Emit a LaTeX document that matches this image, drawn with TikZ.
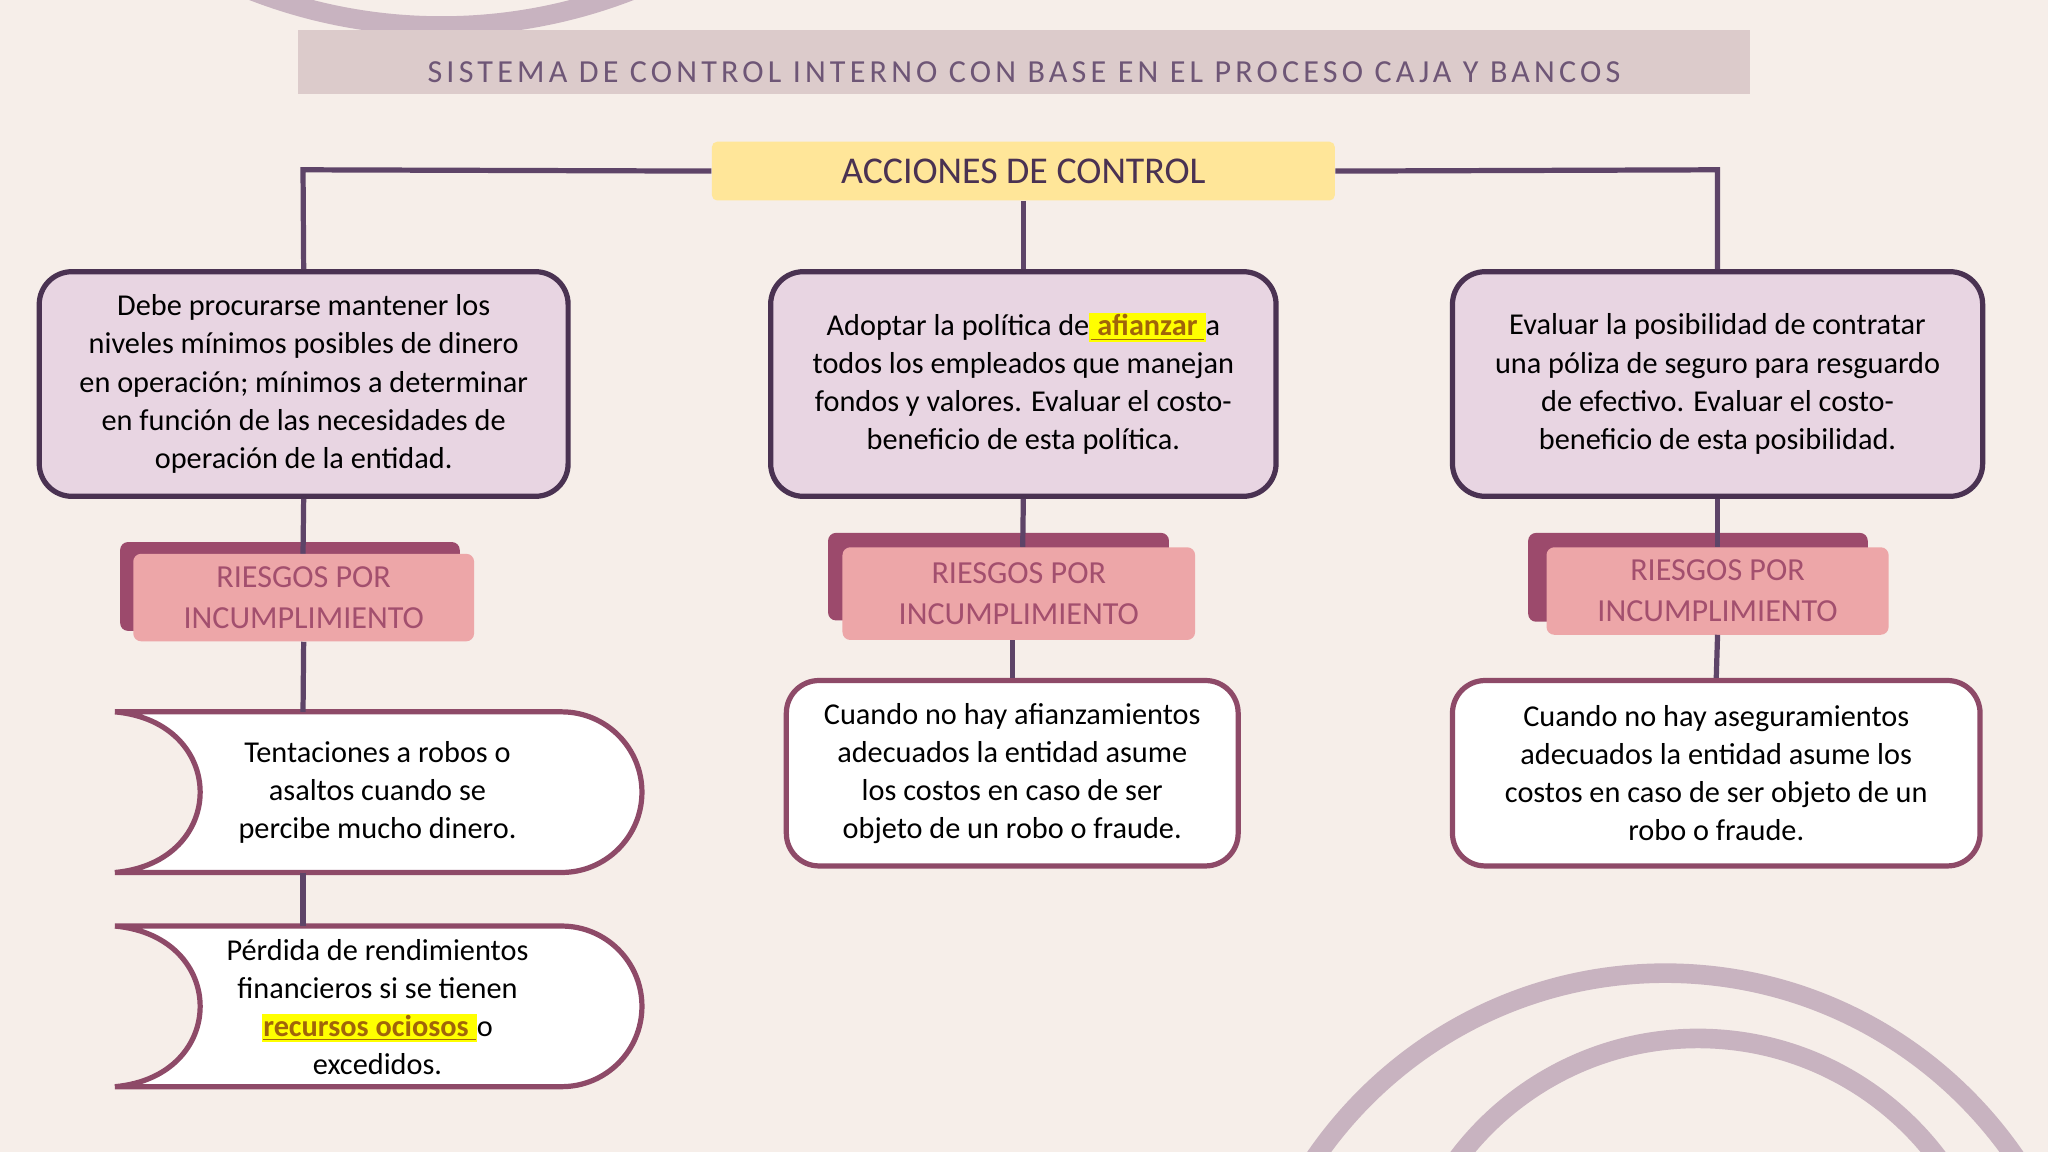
\documentclass[tikz,border=0pt]{standalone}
\usepackage{fontspec}
\setmainfont{Carlito}
\definecolor{bg}{HTML}{F6EEE9}
\definecolor{deco}{HTML}{C8B3C0}
\definecolor{titlebar}{HTML}{DCCBCB}
\definecolor{titletxt}{HTML}{6E5676}
\definecolor{yel}{HTML}{FFE699}
\definecolor{dark}{HTML}{4A3252}
\definecolor{conn}{HTML}{5E4468}
\definecolor{lilac}{HTML}{E8D5E2}
\definecolor{rback}{HTML}{9C4A6C}
\definecolor{rfront}{HTML}{EDA6A8}
\definecolor{rtxt}{HTML}{A34F6E}
\definecolor{wborder}{HTML}{8E4A68}
\definecolor{hly}{HTML}{FFFF00}
\definecolor{hlt}{HTML}{A0650A}
\newcommand{\hlword}[1]{{\setlength\fboxsep{0.5pt}\colorbox{hly}{\textcolor{hlt}{\underline{\bfseries #1}}}}}
\tikzset{
  body/.style={font=\fontsize{13.2}{16.6}\selectfont, text=black, align=center},
  topbox/.style={draw=dark, line width=0.08cm, fill=lilac, rounded corners=0.5cm},
  wbox/.style={draw=wborder, line width=0.08cm, fill=white, rounded corners=0.5cm},
  conline/.style={draw=conn, line width=0.08cm},
  riskf/.style={fill=rfront, rounded corners=0.12cm, font=\fontsize{14}{18}\selectfont, text=rtxt, align=center},
  riskb/.style={fill=rback, rounded corners=0.12cm},
  decoline/.style={draw=deco, line width=0.3cm}
}
\begin{document}
\begin{tikzpicture}[x=0.02cm,y=-0.02cm]
\fill[bg] (0,0) rectangle (1568,882);
\useasboundingbox (0,0) rectangle (1568,882);
\begin{scope}
\clip (0,0) rectangle (1568,882);
\draw[decoline] (338,-380) circle (8cm);
\draw[decoline] (1275,1070) circle (6.5cm);
\draw[decoline] (1300,1025) circle (4.6cm);
\end{scope}
% title
\fill[titlebar] (228,23) rectangle (1340,72);
\node[font=\fontsize{14}{16}\selectfont\addfontfeatures{LetterSpace=13}, text=titletxt] (title) at (784,55) {SISTEMA DE CONTROL INTERNO CON BASE EN EL PROCESO CAJA Y BANCOS};
% acciones
\node[fill=yel, rounded corners=0.08cm, minimum width=9.54cm, minimum height=0.9cm, font=\fontsize{16.5}{18}\selectfont, text=dark] (acc) at (783.5,131) {ACCIONES DE CONTROL};
% top boxes
\node[topbox, body, minimum width=8.1cm, minimum height=3.44cm] (b1) at (232.5,294) {Debe procurarse mantener los\\niveles mínimos posibles de dinero\\en operación; mínimos a determinar\\en función de las necesidades de\\operación de la entidad.};
\node[topbox, body, minimum width=7.74cm, minimum height=3.44cm] (b2) at (783.5,294) {Adoptar la política de\hlword{ afianzar }a\\todos los empleados que manejan\\fondos y valores. Evaluar el costo-\\beneficio de esta política.};
\node[topbox, body, minimum width=8.12cm, minimum height=3.44cm] (b3) at (1315,294) {Evaluar la posibilidad de contratar\\una póliza de seguro para resguardo\\de efectivo. Evaluar el costo-\\beneficio de esta posibilidad.};
\coordinate (l1) at (232,130);
\coordinate (l3) at (1315,130);
\draw[conline] (acc.west) -- (l1) -- (b1.north);
\draw[conline] (acc.east) -- (l3) -- (b3.north);
\draw[conline] (acc.south) -- (b2.north);
% risks
\fill[riskb] (92,415) rectangle (352,483);
\fill[riskb] (634,408) rectangle (895,475);
\fill[riskb] (1170,408) rectangle (1430,476);
\draw[conline] (b1.south) -- (232,424);
\draw[conline] (b2.south) -- (783,419);
\draw[conline] (b3.south) -- (1315,419);
\node[riskf, minimum width=5.22cm, minimum height=1.34cm] (r1) at (232.5,457.5) {RIESGOS POR\\INCUMPLIMIENTO};
\node[riskf, minimum width=5.4cm, minimum height=1.42cm] (r2) at (780,454.5) {RIESGOS POR\\INCUMPLIMIENTO};
\node[riskf, minimum width=5.24cm, minimum height=1.34cm] (r3) at (1315,452.5) {RIESGOS POR\\INCUMPLIMIENTO};
% bottom boxes
\node[wbox, body, minimum width=6.92cm, minimum height=2.84cm] (w2) at (775,592) {Cuando no hay afianzamientos\\adecuados la entidad asume\\los costos en caso de ser\\objeto de un robo o fraude.};
\node[wbox, body, minimum width=8.08cm, minimum height=2.84cm] (w3) at (1314,592) {Cuando no hay aseguramientos\\adecuados la entidad asume los\\costos en caso de ser objeto de un\\robo o fraude.};
\draw[conline] (775,490) -- (w2.north);
\draw[conline] (1315,486) -- (w3.north);
% left tab shapes
\foreach \t in {545,709}{
  \draw[draw=wborder, line width=0.08cm, fill=white]
    (88,\t) -- (430,\t) arc[start angle=90,end angle=-90,radius=1.23cm]
    -- (88,\t+123) .. controls (175,\t+115) and (175,\t+8) .. (88,\t);
}
\node[body] (s1) at (289,607) {Tentaciones a robos o\\asaltos cuando se\\percibe mucho dinero.};
\node[body] (s2) at (289,771) {Pérdida de rendimientos\\financieros si se tienen\\\hlword{recursos ociosos }o\\excedidos.};
\draw[conline] (r1.south) -- (232,545);
\draw[conline] (232,668) -- (232,709);
\end{tikzpicture}
\end{document}
